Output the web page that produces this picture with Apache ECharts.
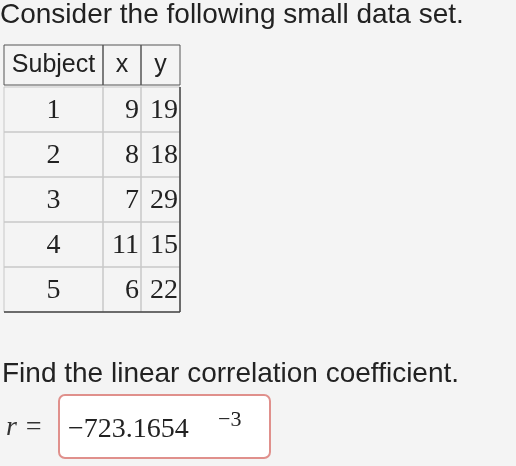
<!DOCTYPE html>
<html>
<head>
<meta charset="utf-8">
<script src="https://cdn.jsdelivr.net/npm/echarts@6/dist/echarts.min.js"></script>
<style>
  html, body { margin: 0; padding: 0; background: #f4f4f4; }
  #main { width: 516px; height: 466px; }
</style>
</head>
<body>
<div id="main"></div>
<script>
// table data
var headers = ['Subject', 'x', 'y'];
var subjects = ['1', '2', '3', '4', '5'];
var xs = ['9', '8', '7', '11', '6'];
var ys = ['19', '18', '29', '15', '22'];
var answer = '\u2212723.1654';
var answerExp = '\u22123';

var myChart = echarts.init(document.getElementById('main'));

var colX = [4, 103, 141, 180];
var top0 = 45, headH = 40, rowH = 45;
var sans = 'Liberation Sans, Arial, sans-serif';
var serif = 'Liberation Serif, Times New Roman, serif';

var els = [];
els.push({ type: 'rect', shape: { x: 0, y: 0, width: 516, height: 466 }, style: { fill: '#f4f4f4' } });
els.push({ type: 'text', left: 0, top: 1, style: { text: 'Consider the following small data set.', font: '28px ' + sans, fill: '#222' } });

// header
for (var c = 0; c < 3; c++) {
    els.push({ type: 'rect', shape: { x: colX[c], y: top0, width: colX[c + 1] - colX[c], height: headH },
        style: { fill: 'none', stroke: '#555', lineWidth: 1 } });
    els.push({ type: 'text', x: (colX[c] + colX[c + 1]) / 2, y: top0 + headH / 2,
        style: { text: headers[c], font: '25px ' + sans, fill: '#222', align: 'center', verticalAlign: 'middle' } });
}
// rows
for (var r = 0; r < subjects.length; r++) {
    var y0 = top0 + headH + 2 + r * rowH;
    var vals = [subjects[r], xs[r], ys[r]];
    for (var c2 = 0; c2 < 3; c2++) {
        els.push({ type: 'rect', shape: { x: colX[c2], y: y0, width: colX[c2 + 1] - colX[c2], height: rowH },
            style: { fill: 'none', stroke: '#c8c8c8', lineWidth: 1 } });
        var align = c2 === 0 ? 'center' : 'right';
        var tx = c2 === 0 ? (colX[0] + colX[1]) / 2 : colX[c2 + 1] - 2;
        els.push({ type: 'text', x: tx, y: y0 + rowH / 2 + 1,
            style: { text: vals[c2], font: '28px ' + serif, fill: '#222', align: align, verticalAlign: 'middle' } });
    }
}
var bodyTop = top0 + headH + 2, bodyBot = bodyTop + subjects.length * rowH;
els.push({ type: 'line', shape: { x1: colX[3], y1: bodyTop, x2: colX[3], y2: bodyBot }, style: { stroke: '#444', lineWidth: 1.5 } });
els.push({ type: 'line', shape: { x1: colX[0], y1: bodyBot, x2: colX[3], y2: bodyBot }, style: { stroke: '#444', lineWidth: 1.5 } });

els.push({ type: 'text', left: 2, top: 360, style: { text: 'Find the linear correlation coefficient.', font: '28px ' + sans, fill: '#222' } });
els.push({ type: 'text', x: 6, y: 428, style: { text: 'r =', font: 'italic 28px ' + serif, fill: '#333', verticalAlign: 'middle' } });
els.push({ type: 'rect', shape: { x: 59, y: 395, width: 211, height: 63, r: 6 },
    style: { fill: '#fff', stroke: '#e0908c', lineWidth: 2 } });
els.push({ type: 'text', x: 68, y: 430, style: { text: answer, font: '28px ' + serif, fill: '#222', verticalAlign: 'middle' } });
els.push({ type: 'text', x: 218, y: 420, style: { text: answerExp, font: '22px ' + serif, fill: '#222', verticalAlign: 'middle' } });

myChart.setOption({
    backgroundColor: '#f4f4f4',
    graphic: els
});
</script>
</body>
</html>
